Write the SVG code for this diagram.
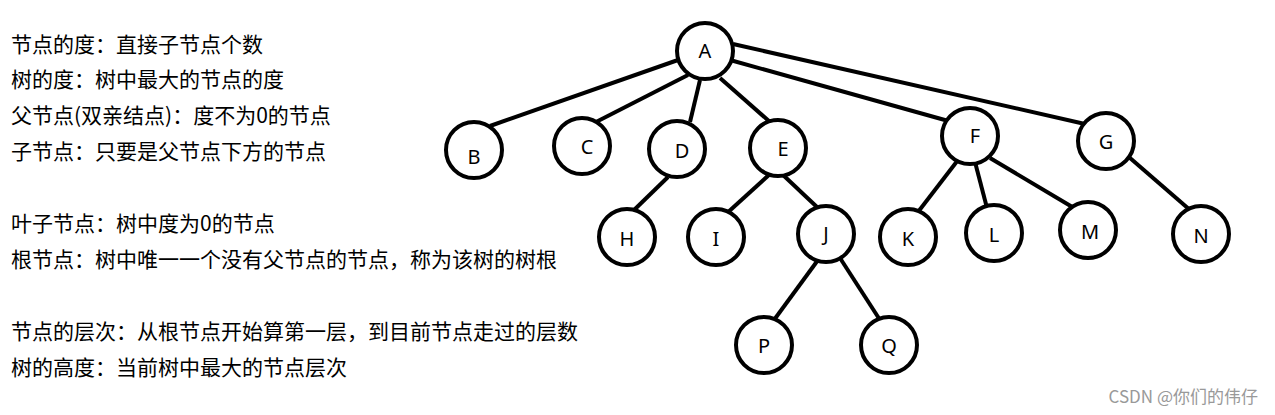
<svg xmlns="http://www.w3.org/2000/svg" width="1275" height="415" viewBox="0 0 1275 415">
<style>
.t{font-family:"Noto Sans CJK SC","Noto Sans",sans-serif;font-size:21px;fill:#000}
.n circle{fill:#fff;stroke:#000;stroke-width:4}
.n text{font-family:"Noto Sans","Liberation Sans",sans-serif;font-size:20px;text-anchor:middle}
#edges line{stroke:#000;stroke-width:4}
</style>
<rect width="1275" height="415" fill="#fff"/>
<g id="text">
<text class="t" x="11" y="52">节点的度：直接子节点个数</text>
<text class="t" x="11" y="87">树的度：树中最大的节点的度</text>
<text class="t" x="11" y="123">父节点(双亲结点)：度不为0的节点</text>
<text class="t" x="11" y="159">子节点：只要是父节点下方的节点</text>
<text class="t" x="11" y="231">叶子节点：树中度为0的节点</text>
<text class="t" x="11" y="267">根节点：树中唯一一个没有父节点的节点，称为该树的树根</text>
<text class="t" x="11" y="339">节点的层次：从根节点开始算第一层，到目前节点走过的层数</text>
<text class="t" x="11" y="375">树的高度：当前树中最大的节点层次</text>
</g>
<g id="edges">
<line x1="678" y1="60" x2="490" y2="126"/>
<line x1="688" y1="75" x2="596" y2="122"/>
<line x1="700" y1="80" x2="690" y2="122"/>
<line x1="720" y1="78" x2="770" y2="122"/>
<line x1="730" y1="60" x2="952" y2="122"/>
<line x1="733" y1="44" x2="1085" y2="124"/>
<line x1="668" y1="177" x2="632" y2="212"/>
<line x1="770" y1="174" x2="726" y2="214"/>
<line x1="782" y1="174" x2="818" y2="208"/>
<line x1="958" y1="160" x2="918" y2="212"/>
<line x1="975" y1="162" x2="987" y2="208"/>
<line x1="990" y1="158" x2="1074" y2="208"/>
<line x1="1130" y1="158" x2="1190" y2="210"/>
<line x1="818" y1="260" x2="774" y2="320"/>
<line x1="840" y1="258" x2="880" y2="320"/>
</g>
<g id="A" class="n"><circle cx="705" cy="51" r="28"/><text x="705" y="58">A</text></g>
<g id="B" class="n"><circle cx="474" cy="150" r="28"/><text x="474" y="164">B</text></g>
<g id="C" class="n"><circle cx="582" cy="146" r="28"/><text x="587" y="154">C</text></g>
<g id="D" class="n"><circle cx="677" cy="149" r="28"/><text x="682" y="158">D</text></g>
<g id="E" class="n"><circle cx="778" cy="148" r="28"/><text x="783" y="156">E</text></g>
<g id="F" class="n"><circle cx="970" cy="136" r="28"/><text x="975" y="143">F</text></g>
<g id="G" class="n"><circle cx="1106" cy="141" r="28"/><text x="1106" y="149">G</text></g>
<g id="H" class="n"><circle cx="627" cy="237" r="28"/><text x="627" y="246">H</text></g>
<g id="I" class="n"><circle cx="716" cy="237" r="28"/><text x="716" y="246">I</text></g>
<g id="J" class="n"><circle cx="826" cy="234" r="28"/><text x="826" y="241">J</text></g>
<g id="K" class="n"><circle cx="908" cy="237" r="28"/><text x="908" y="246">K</text></g>
<g id="L" class="n"><circle cx="994" cy="233" r="28"/><text x="994" y="242">L</text></g>
<g id="M" class="n"><circle cx="1088" cy="230" r="28"/><text x="1090" y="239">M</text></g>
<g id="N" class="n"><circle cx="1201" cy="234" r="28"/><text x="1201" y="243">N</text></g>
<g id="P" class="n"><circle cx="764" cy="345" r="28"/><text x="764" y="353">P</text></g>
<g id="Q" class="n"><circle cx="889" cy="345" r="28"/><text x="889" y="353">Q</text></g>
<text x="1258" y="403" text-anchor="end" font-family="Noto Sans CJK SC,Noto Sans,sans-serif" font-size="17" fill="#999">CSDN @你们的伟仔</text>
</svg>
